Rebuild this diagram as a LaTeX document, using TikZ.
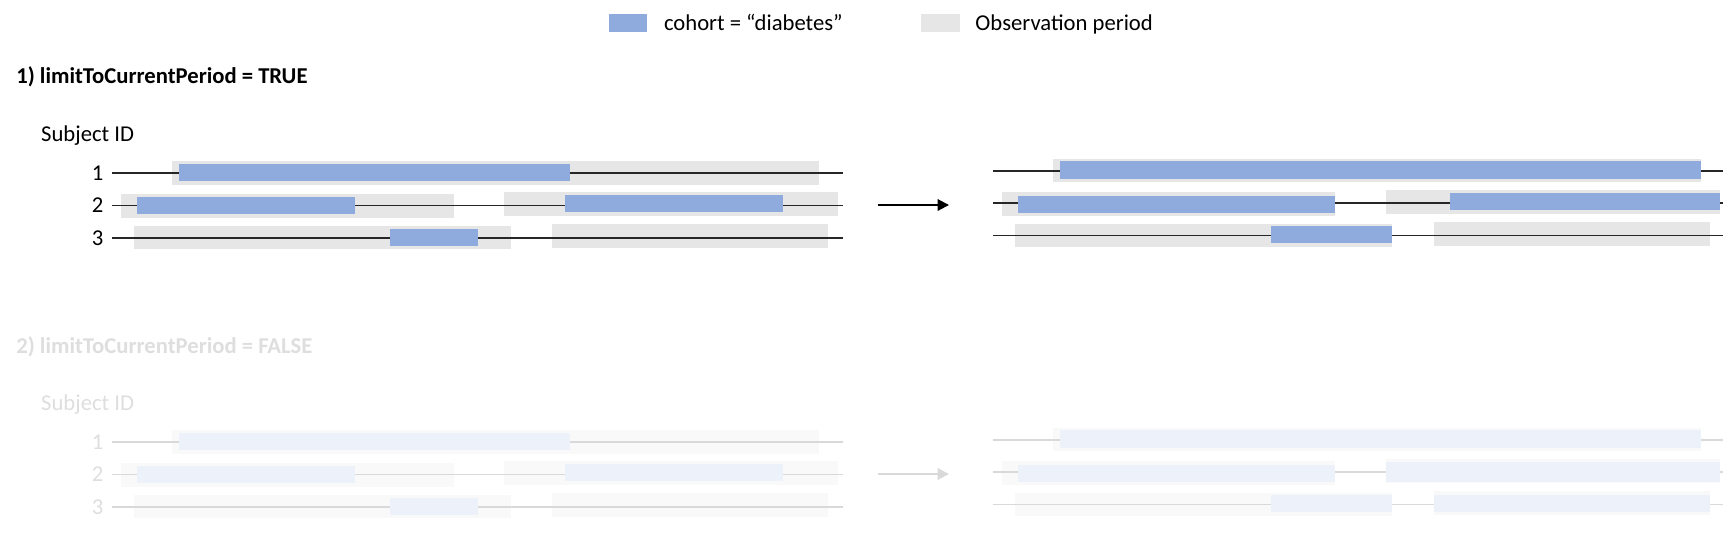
\documentclass[tikz,border=0pt]{standalone}
\usepackage{fontspec}
\setmainfont{Carlito}
\usetikzlibrary{arrows.meta}
\definecolor{cohortBlue}{RGB}{143,170,220}
\definecolor{obsGray}{RGB}{231,230,230}
\definecolor{lineDark}{RGB}{38,38,38}
\definecolor{fadeBlue}{RGB}{237,241,250}
\definecolor{fadeGray}{RGB}{249,249,249}
\definecolor{fadeLine}{RGB}{217,217,217}
\definecolor{fadeText}{RGB}{222,222,222}
\newcommand{\periodbox}[3]{\fill[#1] #2 rectangle #3;}
\newcommand{\idline}[3]{\draw[#1,line width=1pt] (#2,#3) -- ++(734,0);}
\newcommand{\leftpanel}[3]{%
  \periodbox{#1}{(173,161)}{(823,185)} \periodbox{#1}{(122,194)}{(456,218)} \periodbox{#1}{(507,192)}{(842,216)}
  \periodbox{#1}{(135,226)}{(514,249)} \periodbox{#1}{(555,224)}{(832,248)}
  \idline{#2}{113}{173} \idline{#2}{113}{205.5} \idline{#2}{113}{238}
  \periodbox{#3}{(180,164)}{(573,181)} \periodbox{#3}{(138,197)}{(357,214)} \periodbox{#3}{(568,195)}{(787,212)}
  \periodbox{#3}{(392,229)}{(480,246)}}
\tikzset{
  lbl/.style={inner sep=0pt,font=\fontsize{12.9}{15}\selectfont},
  headlbl/.style={lbl,font=\fontsize{12.9}{15}\selectfont\bfseries},
  flowarrow/.style={line width=1.6pt,-{Triangle[length=0.23cm,width=0.22cm]}}
}

\begin{document}
\begin{tikzpicture}[x=0.02cm,y=-0.02cm]
\useasboundingbox (0,0) rectangle (1734,532);
\begin{scope}[xscale=0.995]
\periodbox{cohortBlue}{(612,14)}{(650,32)}
\node[lbl,anchor=base west] (legCohort) at (667,30) {cohort = “diabetes”};
\periodbox{obsGray}{(926,14)}{(965,32)}
\node[lbl,anchor=base west] (legObs) at (980,30) {Observation period};

\node[headlbl,anchor=base west] (headA) at (16,83.5) {1) limitToCurrentPeriod = TRUE};
\node[lbl,anchor=base west] (subjA) at (41,141.5) {Subject ID};
\foreach \i/\y in {1/173,2/205.5,3/238} \node[lbl] (idA\i) at (98,\y) {\i};
\leftpanel{obsGray}{lineDark}{cohortBlue}
\begin{scope}[shift={(5,0)}]
\periodbox{obsGray}{(1053,159)}{(1705,182)} \periodbox{obsGray}{(1002,192)}{(1337,216)} \periodbox{obsGray}{(1388,190)}{(1724,214)}
\periodbox{obsGray}{(1015,224)}{(1394,247)} \periodbox{obsGray}{(1436,222)}{(1714,246)}
\idline{lineDark}{993}{171} \idline{lineDark}{993}{203} \idline{lineDark}{993}{235.5}
\periodbox{cohortBlue}{(1060,161)}{(1705,179)} \periodbox{cohortBlue}{(1018,196)}{(1337,213)} \periodbox{cohortBlue}{(1452,193)}{(1724,210)}
\periodbox{cohortBlue}{(1272,226)}{(1394,243)}
\end{scope}
\coordinate (arrAs) at (882,205); \coordinate (arrAe) at (954,205);
\draw[flowarrow,black] (arrAs) -- (arrAe);

\begin{scope}[shift={(0,269)}]
\node[headlbl,anchor=base west,text=fadeText] (headB) at (16,84.5) {2) limitToCurrentPeriod = FALSE};
\node[lbl,anchor=base west,text=fadeText] (subjB) at (41,141.5) {Subject ID};
\foreach \i/\y in {1/173,2/205.5,3/238} \node[lbl,text=fadeText] (idB\i) at (98,\y) {\i};
\leftpanel{fadeGray}{fadeLine}{fadeBlue}
\begin{scope}[shift={(5,0)}]
\periodbox{fadeGray}{(1053,159)}{(1705,182)} \periodbox{fadeGray}{(1002,192)}{(1337,216)} \periodbox{fadeGray}{(1388,190)}{(1724,214)}
\periodbox{fadeGray}{(1015,224)}{(1394,247)} \periodbox{fadeGray}{(1436,222)}{(1714,246)}
\idline{fadeLine}{993}{171} \idline{fadeLine}{993}{203} \idline{fadeLine}{993}{235.5}
\periodbox{fadeBlue}{(1060,161)}{(1705,179)} \periodbox{fadeBlue}{(1018,196)}{(1337,213)} \periodbox{fadeBlue}{(1388,193)}{(1724,213)}
\periodbox{fadeBlue}{(1272,226)}{(1394,243)} \periodbox{fadeBlue}{(1436,226)}{(1714,243)}
\end{scope}
\coordinate (arrBs) at (882,205); \coordinate (arrBe) at (954,205);
\draw[flowarrow,fadeLine] (arrBs) -- (arrBe);
\end{scope}
\end{scope}
\end{tikzpicture}
\end{document}
